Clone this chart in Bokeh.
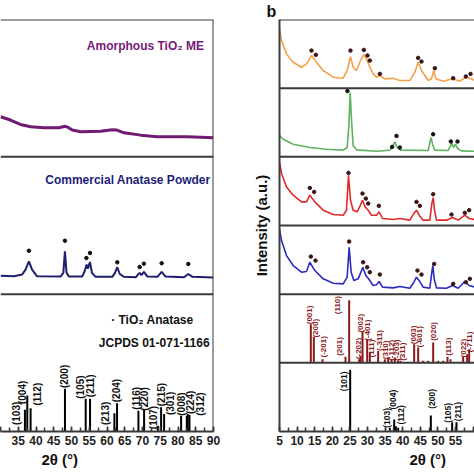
import numpy as np
from bokeh.plotting import figure
from bokeh.layouts import row
from bokeh.models import Span, Label, Title, SingleIntervalTicker, FixedTicker
from bokeh.embed import file_html
from bokeh.resources import INLINE
from bokeh.core.properties import value

FONT = "Liberation Sans"

# ---------------- Panel a data (2theta, normalised intensity within its strip) ----------------
amo_tt = [30.0, 32.8, 35.6, 38.5, 42.2, 46.5, 47.6, 48.3, 49.2, 50.2, 52.6, 58.2, 61.5, 62.8, 64.8, 69.5, 74.2, 82.7, 90.0]
amo_i = [0.292, 0.268, 0.236, 0.219, 0.212, 0.212, 0.219, 0.222, 0.212, 0.195, 0.182, 0.187, 0.197, 0.195, 0.175, 0.158, 0.146, 0.146, 0.139]

ana_tt = [30.0, 33.8, 36.1, 37.05, 38.0, 38.9, 40.3, 46.9, 47.7, 48.15, 48.6, 49.3, 53.0, 53.7, 54.26, 54.6, 55.2, 55.76, 56.8,
          61.5, 62.25, 62.9, 63.6, 64.8, 68.1, 68.7, 69.2, 69.7, 70.4, 71.4, 74.2, 75.4, 76.5, 81.7, 82.9, 84.1, 90.0]
ana_i = [0.135, 0.130, 0.143, 0.179, 0.239, 0.179, 0.130, 0.128, 0.155, 0.312, 0.155, 0.128, 0.128, 0.167, 0.215, 0.186, 0.234, 0.155, 0.126,
         0.126, 0.155, 0.196, 0.147, 0.126, 0.123, 0.143, 0.155, 0.138, 0.162, 0.128, 0.126, 0.162, 0.128, 0.123, 0.147, 0.126, 0.121]
ana_dot_tt = [38.0, 48.15, 54.2, 55.2, 62.9, 69.2, 70.4, 75.4, 82.9]
ana_dot_i = [0.316, 0.389, 0.263, 0.300, 0.232, 0.198, 0.222, 0.225, 0.220]

jc_tt = [36.88, 37.54, 38.48, 48.16, 54.0, 55.22, 62.08, 62.83, 68.85, 70.45, 74.3, 75.24, 76.09, 80.88, 82.48, 82.76, 83.23]
jc_h = [0.159, 0.262, 0.169, 0.311, 0.238, 0.238, 0.132, 0.206, 0.152, 0.157, 0.042, 0.176, 0.127, 0.115, 0.115, 0.127, 0.120]
jc_lbl = ["(103)", "(004)", "(112)", "(200)", "(105)", "(211)", "(213)", "(204)", "(116)", "(220)", "(107)", "(215)",
          "(301)", "(008)", "(224)", "(312)"]
# label anchors (layout): x centre, y of text start
jc_lbl_x = [34.53, 36.13, 40.36, 48.16, 52.58, 55.22, 59.45, 62.74, 68.19, 70.45, 73.08, 75.43, 77.78, 80.88, 83.61, 86.43]
jc_lbl_y = [0.047, 0.20, 0.189, 0.316, 0.238, 0.25, 0.047, 0.213, 0.159, 0.152, 0.017, 0.184, 0.12, 0.115, 0.127, 0.115]

# ---------------- Panel b data ----------------
or_tt = [5.0, 5.57, 6.99, 8.88, 11.25, 12.67, 14.09, 15.51, 17.41, 20.25, 23.09, 24.22, 25.17, 25.93, 26.88, 28.01, 28.96, 29.72,
         30.66, 31.61, 32.56, 33.50, 34.92, 37.29, 39.19, 42.03, 43.45, 44.39, 45.34, 47.23, 48.18, 48.84, 49.41, 51.50, 54.15,
         56.23, 57.94, 59.07, 60.5]
or_i = [0.862, 0.693, 0.499, 0.378, 0.305, 0.354, 0.475, 0.378, 0.257, 0.160, 0.145, 0.257, 0.460, 0.305, 0.257, 0.402, 0.489, 0.426,
        0.305, 0.208, 0.160, 0.184, 0.136, 0.145, 0.111, 0.111, 0.233, 0.378, 0.257, 0.111, 0.136, 0.257, 0.136, 0.102, 0.136,
        0.102, 0.160, 0.145, 0.111]
or_dt = [14.09, 15.32, 25.17, 28.96, 30.0, 30.66, 33.50, 44.39, 45.34, 49.13, 54.34, 57.94, 59.27]
or_di = [0.547, 0.485, 0.547, 0.557, 0.475, 0.402, 0.208, 0.441, 0.388, 0.291, 0.145, 0.170, 0.208]

gr_tt = [5.0, 6.04, 8.88, 13.62, 18.35, 23.09, 24.22, 24.70, 25.08, 25.45, 25.93, 26.88, 32.56, 36.34, 37.10, 37.77, 38.43, 39.38,
         47.23, 47.71, 48.09, 48.47, 49.13, 52.92, 53.58, 53.96, 54.43, 55.0, 55.57, 56.70, 60.49]
gr_i = [0.315, 0.257, 0.184, 0.136, 0.111, 0.097, 0.136, 0.451, 0.935, 0.547, 0.160, 0.102, 0.082, 0.097, 0.136, 0.218, 0.136, 0.097,
        0.092, 0.208, 0.281, 0.184, 0.097, 0.092, 0.160, 0.199, 0.136, 0.184, 0.121, 0.087, 0.082]
gr_dt = [24.3, 37.0, 38.24, 39.19, 48.66, 53.67, 55.57]
gr_di = [0.959, 0.145, 0.305, 0.136, 0.329, 0.223, 0.223]

rd_tt = [5.0, 5.57, 6.99, 8.88, 11.25, 12.67, 13.62, 15.04, 17.41, 20.25, 23.09, 24.03, 24.60, 25.17, 25.93, 27.06, 28.01, 28.58,
         29.34, 30.19, 31.14, 32.56, 33.31, 34.26, 37.29, 39.19, 42.03, 43.16, 43.92, 44.67, 45.81, 47.70, 48.28, 48.66, 49.03,
         49.60, 52.44, 54.15, 55.76, 57.65, 58.88, 60.49]
rd_i = [0.925, 0.756, 0.562, 0.441, 0.344, 0.344, 0.441, 0.344, 0.223, 0.160, 0.150, 0.223, 0.732, 0.368, 0.223, 0.199, 0.296, 0.368,
        0.271, 0.223, 0.150, 0.150, 0.199, 0.102, 0.087, 0.102, 0.078, 0.174, 0.223, 0.150, 0.078, 0.078, 0.320, 0.407, 0.223,
        0.078, 0.078, 0.116, 0.078, 0.150, 0.102, 0.087]
rd_dt = [13.62, 14.85, 24.60, 28.58, 29.53, 30.19, 33.22, 43.92, 44.87, 48.66, 53.86, 57.65, 58.88]
rd_di = [0.547, 0.489, 0.766, 0.465, 0.392, 0.320, 0.286, 0.344, 0.286, 0.455, 0.160, 0.184, 0.223]

bl_tt = [5.0, 5.57, 6.99, 8.88, 11.25, 12.67, 13.62, 15.04, 17.41, 20.25, 23.09, 24.22, 24.79, 25.36, 26.12, 27.35, 28.11, 28.68,
         29.53, 30.47, 31.61, 32.56, 33.31, 34.26, 37.29, 39.19, 42.03, 43.16, 43.92, 44.87, 45.81, 47.70, 48.28, 48.56, 48.94,
         49.60, 52.44, 54.15, 55.76, 57.65, 58.88, 60.49]
bl_i = [0.950, 0.780, 0.562, 0.417, 0.320, 0.329, 0.465, 0.344, 0.223, 0.160, 0.150, 0.247, 0.683, 0.320, 0.199, 0.223, 0.320, 0.392,
        0.271, 0.213, 0.126, 0.136, 0.184, 0.102, 0.092, 0.111, 0.087, 0.174, 0.247, 0.184, 0.102, 0.087, 0.320, 0.417, 0.223,
        0.092, 0.087, 0.126, 0.087, 0.184, 0.126, 0.102]
bl_dt = [13.9, 15.23, 24.79, 28.77, 29.91, 30.66, 33.5, 44.2, 45.34, 48.94, 54.34, 57.94, 59.08]
bl_di = [0.547, 0.489, 0.766, 0.465, 0.392, 0.320, 0.286, 0.344, 0.286, 0.441, 0.150, 0.174, 0.223]

rs_tt = [13.90, 14.75, 17.22, 23.75, 24.79, 27.63, 28.01, 28.58, 29.91, 30.66, 33.03, 34.92, 35.87, 36.82, 37.77, 38.71, 39.38,
         43.26, 44.39, 45.81, 47.23, 48.66, 50.08, 51.50, 52.73, 53.58, 57.17, 58.31, 58.88]
rs_h = [0.562, 0.378, 0.053, 0.087, 0.911, 0.053, 0.102, 0.465, 0.344, 0.150, 0.174, 0.053, 0.078, 0.053, 0.078, 0.039, 0.029,
        0.271, 0.223, 0.029, 0.029, 0.296, 0.029, 0.029, 0.087, 0.053, 0.087, 0.126, 0.199]
rs_lbl = ["(001)", "(200)", "(-201)", "(110)", "(201)", "(-202)", "(002)", "(-401)", "(111)", "(-311)", "(310)", "(-112)",
          "(-203)", "(311)", "(003)", "(-601)", "(020)", "(113)", "(022)", "(-711)"]
rs_lbl_x = [13.62, 15.32, 17.4, 21.61, 22.09, 27.35, 28.11, 29.91, 31.14, 33.5, 35.2, 36.8, 38.2, 39.9, 42.97, 44.67, 48.66,
            52.92, 57.17, 59.07]
rs_lbl_y = [0.562, 0.368, 0.078, 0.707, 0.102, 0.053, 0.441, 0.320, 0.078, 0.174, 0.053, 0.029, 0.029, 0.029, 0.271, 0.223,
            0.320, 0.102, 0.078, 0.150]

ks_tt = [25.08, 36.34, 37.58, 38.05, 38.71, 47.99, 54.05, 55.28]
ks_h = [0.901, 0.053, 0.174, 0.078, 0.053, 0.233, 0.136, 0.136]
ks_lbl = ["(101)", "(103)", "(004)", "(112)", "(200)", "(105)", "(211)"]
ks_lbl_x = [23.37, 35.4, 37.3, 39.4, 48.37, 52.9, 55.76]
ks_lbl_y = [0.586, 0.053, 0.32, 0.102, 0.33, 0.126, 0.15]

FRAME = "#3a3a3a"


def style_x(p, size, hide):
    ax = p.xaxis[0]
    ax.ticker = SingleIntervalTicker(interval=5, num_minor_ticks=2)
    ax.major_label_overrides = {hide: ""}
    ax.axis_line_width = 2
    ax.axis_line_color = FRAME
    ax.major_tick_in = 5
    ax.major_tick_out = 0
    ax.minor_tick_in = 4
    ax.minor_tick_out = 0
    ax.major_tick_line_color = FRAME
    ax.minor_tick_line_color = FRAME
    ax.major_tick_line_width = 1.5
    ax.minor_tick_line_width = 1.5
    ax.major_label_text_font = FONT
    ax.major_label_text_font_style = "bold"
    ax.major_label_text_font_size = size
    ax.major_label_text_color = "#222222"
    ax.major_label_standoff = 4


def offs(vals, k):
    return [v + k for v in vals]


def axis_title(p, offset):
    p.add_layout(Title(text="2\u03b8  (\u00b0)", align="left", offset=offset, standoff=2,
                       text_font=FONT, text_font_style="bold", text_font_size="15px",
                       text_color="#111111"), "below")


# ---------------- Figure a ----------------
pa = figure(width=230, height=474, x_range=(30, 90), y_range=(0, 3), output_backend="svg",
            toolbar_location=None, min_border_left=0, min_border_right=17, min_border_top=18,
            min_border_bottom=43)
pa.yaxis.visible = False
pa.grid.visible = False
pa.outline_line_color = None
style_x(pa, "12px", 30)
axis_title(pa, 41)

pa.line(amo_tt, offs(amo_i, 2), line_color="#701a72", line_width=3)
pa.line(ana_tt, offs(ana_i, 1), line_color="#1e1e6e", line_width=2)
pa.scatter(ana_dot_tt, offs(ana_dot_i, 1), size=3.5, color="#111111")
pa.segment(x0=jc_tt, y0=[0] * len(jc_tt), x1=jc_tt, y1=jc_h, line_color="black", line_width=2)
pa.text(x=jc_lbl_x, y=jc_lbl_y, text=jc_lbl, angle=np.pi / 2, text_font=value(FONT), text_font_style="bold",
        text_font_size="10px", text_align="left", text_baseline="middle", text_color="#111111")

for yv in (1, 2, 3):
    pa.add_layout(Span(location=yv, dimension="width", line_color=FRAME, line_width=2))
pa.add_layout(Span(location=90, dimension="height", line_color=FRAME, line_width=2))

pa.add_layout(Label(x=87.3, y=2.808, text="Amorphous TiO\u2082 ME", text_font=FONT, text_font_style="bold",
                    text_font_size="12px", text_align="right", text_baseline="middle", text_color="#741a78"))
pa.add_layout(Label(x=89.2, y=1.831, text="Commercial Anatase Powder", text_font=FONT, text_font_style="bold",
                    text_font_size="12px", text_align="right", text_baseline="middle", text_color="#1d1d78"))
pa.add_layout(Label(x=84.4, y=0.814, text="\u00b7 TiO\u2082 Anatase", text_font=FONT, text_font_style="bold",
                    text_font_size="12px", text_align="right", text_baseline="middle", text_color="#111111"))
pa.add_layout(Label(x=88.9, y=0.647, text="JCPDS 01-071-1166", text_font=FONT, text_font_style="bold",
                    text_font_size="12px", text_align="right", text_baseline="middle", text_color="#111111"))

# ---------------- Figure b ----------------
pb = figure(width=244, height=474, x_range=(5, 5 + 195 / 3.52), y_range=(0, 6), output_backend="svg",
            toolbar_location=None, min_border_left=49, min_border_right=0, min_border_top=18,
            min_border_bottom=43)
pb.grid.visible = False
pb.outline_line_color = None
style_x(pb, "12px", 60)
axis_title(pb, 130)
pb.add_layout(Title(text="b", align="left", offset=-13, standoff=0, text_font=FONT, text_font_style="bold",
                    text_font_size="16px", text_color="#111111"), "above")
ya = pb.yaxis[0]
ya.ticker = FixedTicker(ticks=[])
ya.axis_line_width = 2
ya.axis_line_color = FRAME
ya.major_tick_line_color = None
ya.minor_tick_line_color = None
ya.axis_label = "Intensity (a.u.)"
ya.axis_label_text_font = FONT
ya.axis_label_text_font_style = "bold"
ya.axis_label_text_font_size = "15px"
ya.axis_label_text_color = "#111111"
ya.axis_label_standoff = 10

DOT_B = "#3b1414"
pb.line(or_tt, offs(or_i, 5), line_color="#f3a04a", line_width=1.6)
pb.scatter(or_dt, offs(or_di, 5), size=3.5, color=DOT_B)
pb.line(gr_tt, offs(gr_i, 4), line_color="#5fb25f", line_width=1.6)
pb.scatter(gr_dt, offs(gr_di, 4), size=3.5, color="#111111")
pb.line(rd_tt, offs(rd_i, 3), line_color="#e02a2a", line_width=1.6)
pb.scatter(rd_dt, offs(rd_di, 3), size=3.5, color=DOT_B)
pb.line(bl_tt, offs(bl_i, 2), line_color="#2a2ac0", line_width=1.6)
pb.scatter(bl_dt, offs(bl_di, 2), size=3.5, color=DOT_B)

pb.segment(x0=rs_tt, y0=[1] * len(rs_tt), x1=rs_tt, y1=offs(rs_h, 1), line_color="#8b1a1a", line_width=2)
pb.text(x=rs_lbl_x, y=offs(rs_lbl_y, 1), text=rs_lbl, angle=np.pi / 2, text_font=value(FONT), text_font_style="bold",
        text_font_size="8px", text_align="left", text_baseline="middle", text_color="#8b1a1a")
pb.segment(x0=ks_tt, y0=[0] * len(ks_tt), x1=ks_tt, y1=ks_h, line_color="black", line_width=2)
pb.text(x=ks_lbl_x, y=ks_lbl_y, text=ks_lbl, angle=np.pi / 2, text_font=value(FONT), text_font_style="bold",
        text_font_size="8.5px", text_align="left", text_baseline="middle", text_color="#111111")

for yv in (1, 2, 3, 4, 5, 6):
    pb.add_layout(Span(location=yv, dimension="width", line_color=FRAME, line_width=2))

layout = row(pa, pb)
open("out.html", "w").write(file_html(layout, INLINE))
